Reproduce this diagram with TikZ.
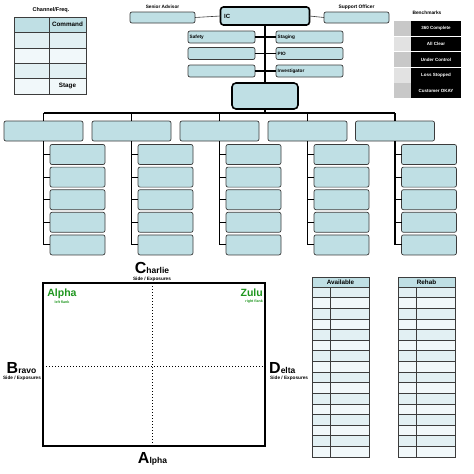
\documentclass[tikz,border=0pt]{standalone}
\usepackage{fontspec}
\setmainfont{Liberation Sans}
\newcommand\myfs[1]{\fontsize{#1}{#1}\selectfont}
\definecolor{boxblue}{RGB}{191,223,228}
\definecolor{rowA}{RGB}{226,240,243}
\definecolor{rowB}{RGB}{241,248,250}
\definecolor{edge}{RGB}{60,60,60}
\definecolor{flank}{RGB}{30,150,30}
\definecolor{greyA}{RGB}{200,200,200}
\definecolor{greyB}{RGB}{226,226,226}
\tikzset{
  orgbox/.style={draw=edge, fill=boxblue, rounded corners=2pt, line width=0.7pt, inner sep=0pt, outer sep=0pt},
  cmdbox/.style={orgbox, draw=black, line width=1.6pt, rounded corners=3pt},
  wire/.style={line width=1.1pt, draw=black},
  thinwire/.style={line width=0.6pt, draw=edge},
  lbl/.style={font=\bfseries\myfs{4.7}, inner sep=0pt},
  inlbl/.style={font=\bfseries\myfs{4.7}, inner sep=1.5pt, anchor=west},
  grid/.style={draw=edge, line width=0.6pt},
  hdr/.style={font=\bfseries\myfs{6.3}, inner sep=0pt},
  bench/.style={font=\bfseries\myfs{4.5}, text=white, inner sep=0pt},
  big/.style={font=\bfseries\myfs{16}},
  small/.style={font=\bfseries\myfs{8.5}},
  sidetxt/.style={font=\bfseries\myfs{4.7}, inner sep=0pt},
  flanktxt/.style={font=\bfseries\myfs{10.5}, text=flank, inner sep=0pt},
  flanksub/.style={font=\bfseries\myfs{3.6}, text=flank, inner sep=0pt},
  dots/.style={dotted, line width=1pt, draw=black}
}
\begin{document}
\begin{tikzpicture}[x=1pt,y=-1pt]
\useasboundingbox (0,0) rectangle (474,474);
\fill[white] (0,0) rectangle (474,474);

% ---------- Channel / Freq table ----------
\node[lbl, font=\bfseries\myfs{5.5}] (chtitle) at (51,10) {Channel/Freq.};
\fill[boxblue] (14,17) rectangle (86,32);
\fill[rowA] (14,32) rectangle (86,48);
\fill[rowB] (14,48) rectangle (86,63);
\fill[rowA] (14,63) rectangle (86,78);
\fill[rowB] (14,78) rectangle (86,94);
\draw[grid] (14,17) rectangle (86,94);
\foreach \yy in {32,48,63,78} \draw[grid] (14,\yy) -- (86,\yy);
\draw[grid] (49,17) -- (49,94);
\node[hdr] (command) at (67.5,24.5) {Command};
\node[hdr] (stage) at (67.5,86) {Stage};

% ---------- Command staff ----------
\node[lbl] (satitle) at (162.5,7) {Senior Advisor};
\node[orgbox, minimum width=65pt, minimum height=11pt] (sa) at (162.5,17.5) {};
\node[lbl, font=\bfseries\myfs{4.9}] (sotitle) at (356.5,7) {Support Officer};
\node[orgbox, minimum width=65pt, minimum height=11pt] (so) at (356.5,17.5) {};
\node[cmdbox, minimum width=89pt, minimum height=18pt,
      label={[inlbl, font=\bfseries\myfs{6}, xshift=2pt]west:IC}] (ic) at (265,16) {};
\draw[thinwire] (sa.east) -- (ic.west);
\draw[thinwire] (ic.east) -- (so.west);

\node[orgbox, minimum width=67pt, minimum height=12pt, label={[inlbl]west:Safety}] (sl1) at (221.5,37) {};
\node[orgbox, minimum width=67pt, minimum height=12pt] (sl2) at (221.5,53.5) {};
\node[orgbox, minimum width=67pt, minimum height=12pt] (sl3) at (221.5,71) {};
\node[orgbox, minimum width=67pt, minimum height=12pt, label={[inlbl]west:Staging}] (sr1) at (309.5,37) {};
\node[orgbox, minimum width=67pt, minimum height=12pt, label={[inlbl]west:PIO}] (sr2) at (309.5,53.5) {};
\node[orgbox, minimum width=67pt, minimum height=12pt, label={[inlbl]west:Investigator}] (sr3) at (309.5,71) {};

\node[cmdbox, minimum width=66pt, minimum height=26pt, rounded corners=4pt] (ops) at (265,96) {};
\draw[wire] (ic.south) -- (ops.north);
\foreach \k in {1,2,3} \draw[wire] (sl\k.east) -- (sr\k.west);

% ---------- Sections ----------
\coordinate (bus) at (265,113);
\foreach \i/\cx in {1/43.5,2/131.5,3/219.5,4/307.5,5/395} {
  \node[orgbox, minimum width=79pt, minimum height=20pt] (sec\i) at (\cx,131) {};
  \foreach \j in {1,...,5} {
    \node[orgbox, minimum width=55pt, minimum height=20pt, anchor=west] (sub\i\j) at ({\cx+6.5},{154.5+(\j-1)*22.6}) {};
    \draw[wire] (sec\i.south |- sub\i\j.west) -- (sub\i\j.west);
  }
  \draw[wire] (sec\i.south) -- (sec\i.south |- sub\i5.west);
  \draw[wire] (sec\i.north) -- (sec\i.north |- bus);
}
\draw[wire] (ops.south) -- (bus);
\draw[wire] (sec1.north |- bus) -- (sec5.north |- bus);

% ---------- Benchmarks ----------
\node[lbl, font=\bfseries\myfs{4.8}] (bmtitle) at (427,13) {Benchmarks};
\foreach \r/\yt/\gc/\txt in {1/21/greyA/360 Complete, 2/36.6/greyB/All Clear, 3/52.2/greyA/Under Control, 4/67.8/greyB/Loss Stopped, 5/83.4/greyA/Customer OKAY} {
  \fill[\gc] (394,\yt) rectangle (411,\yt+14.8);
  \fill[black] (411,\yt) rectangle (461,\yt+14.8);
  \node[bench] (bm\r) at (436,\yt+7.4) {\txt};
}

% ---------- Sides diagram ----------
\draw[line width=1.3pt] (43,283) rectangle (265,446);
\coordinate (vt) at (152,283);
\coordinate (vb) at (152,446);
\coordinate (hl) at (43,366);
\coordinate (hr) at (265,366);
\draw[dots] (vt) -- (vb);
\draw[dots] (hl) -- (hr);

\node[anchor=base, inner sep=0pt] (charlie) at (152,273) {\bfseries{\myfs{16}C}{\myfs{8.5}harlie}};
\node[sidetxt] (charlieside) at (152,279.5) {Side / Exposures};
\node[anchor=base, inner sep=0pt] (bravo) at (21.5,373) {\bfseries{\myfs{16}B}{\myfs{8.5}ravo}};
\node[sidetxt] (bravoside) at (22,378.5) {Side / Exposures};
\node[anchor=base west, inner sep=0pt] (delta) at (269,373) {\bfseries{\myfs{16}D}{\myfs{8.5}elta}};
\node[sidetxt, anchor=west] (deltaside) at (270,378.5) {Side / Exposures};
\node[anchor=base, inner sep=0pt] (alphab) at (152.5,463) {\bfseries{\myfs{16}A}{\myfs{8.5}lpha}};

\node[flanktxt, anchor=base] (alpha) at (62,296) {Alpha};
\node[flanksub] (leftfl) at (62,302) {left flank};
\node[flanktxt, anchor=base east] (zulu) at (263,296) {Zulu};
\node[flanksub, anchor=east] (rightfl) at (263,302) {right flank};

% ---------- Available / Rehab ----------
\foreach \tx/\tt in {312/Available,398/Rehab} {
  \fill[boxblue] (\tx,277) rectangle (\tx+57,287);
  \foreach \r in {0,...,15} {
    \pgfmathsetmacro\ya{287+\r*10.625}
    \ifodd\r \def\rc{rowB}\else\def\rc{rowA}\fi
    \fill[\rc] (\tx,\ya) rectangle (\tx+57,\ya+10.625);
    \draw[grid] (\tx,\ya) -- (\tx+57,\ya);
  }
  \draw[grid] (\tx,277) rectangle (\tx+57,457);
  \draw[grid] (\tx+18.5,287) -- (\tx+18.5,457);
  \node[hdr] at (\tx+28.5,282) {\tt};
}
\end{tikzpicture}
\end{document}
